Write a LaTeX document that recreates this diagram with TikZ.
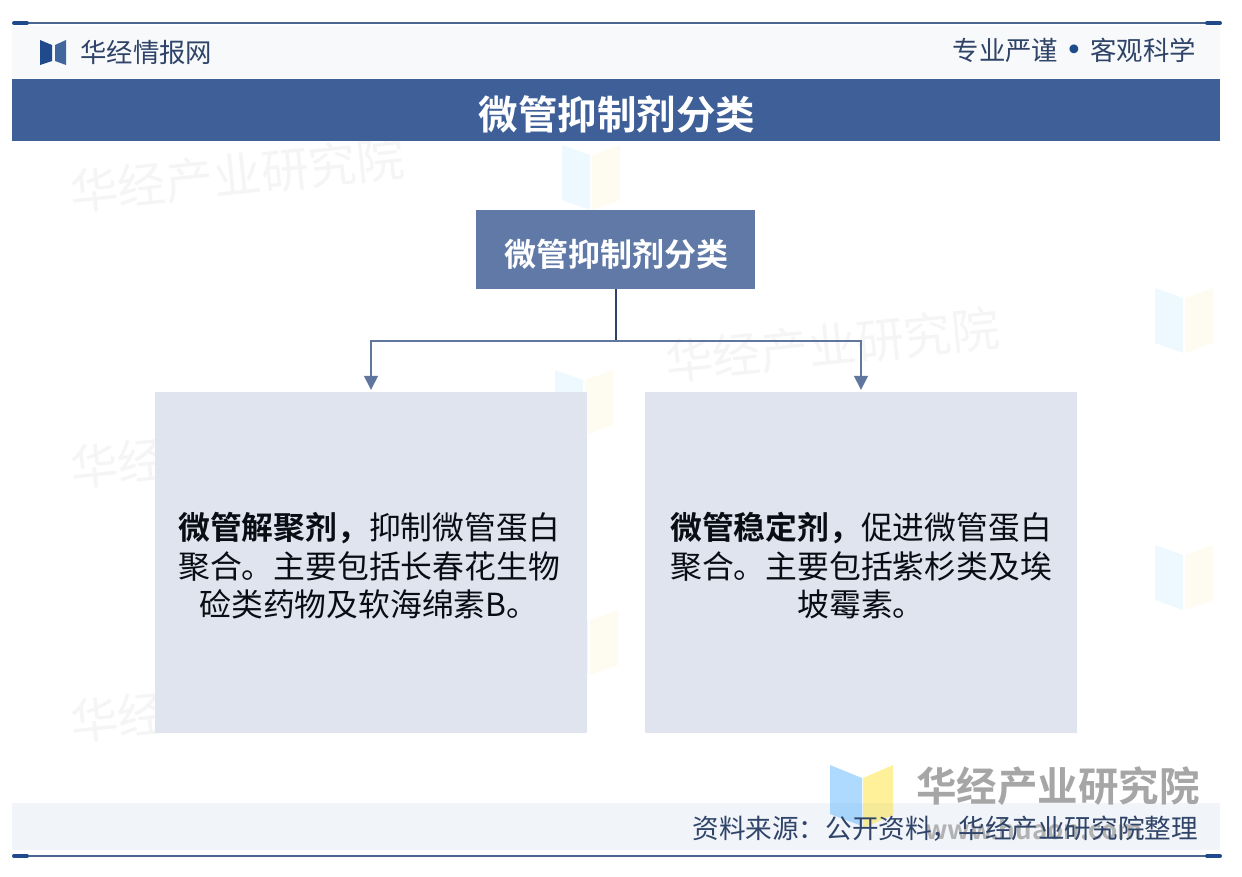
\documentclass[tikz,border=0pt]{standalone}
\usepackage{fontspec}
\setmainfont{Noto Sans CJK SC}[BoldFont={Noto Sans CJK SC Bold}]
\newfontfamily\dotfont{DejaVu Sans}
\usetikzlibrary{arrows.meta}
\definecolor{barblue}{HTML}{3F5F98}
\definecolor{topblue}{HTML}{6079A6}
\definecolor{boxfill}{HTML}{DFE4EE}
\definecolor{linkblue}{HTML}{5F769F}
\definecolor{inkblue}{HTML}{2F4468}
\definecolor{bandtint}{HTML}{F1F4F9}
\definecolor{headtint}{HTML}{F8F9FB}
\definecolor{rulecol}{HTML}{4A6690}
\definecolor{markcol}{HTML}{1F4A8C}
\tikzset{
  titletext/.style={text=white,font=\bfseries\fontsize{39.5}{44}\selectfont,inner sep=0pt},
  toptext/.style={text=white,font=\bfseries\fontsize{32}{36}\selectfont,inner sep=0pt},
  headtext/.style={text=inkblue,font=\fontsize{26.4}{30}\selectfont,inner sep=0pt},
  sourcetext/.style={text=inkblue,font=\fontsize{26.6}{30}\selectfont,inner sep=0pt},
  bodytext/.style={text=black!80!inkblue,font=\fontsize{31.8}{38.5}\selectfont,align=center,inner sep=0pt},
  panel/.style={fill=boxfill,draw=none,minimum width=432pt,minimum height=341pt,inner sep=0pt},
  wmark/.style={text=black!4,font=\fontsize{48}{50}\selectfont,rotate=6,inner sep=0pt,anchor=west},
  link/.style={draw=linkblue,line width=1.6pt},
  rulebar/.style={draw=rulecol,line width=2pt},
  rulecap/.style={draw=markcol,line width=4pt,line cap=round}
}
\begin{document}
\begin{tikzpicture}[x=1pt,y=-1pt]
\useasboundingbox (0,0) rectangle (1242,876);
\fill[white] (0,0) rectangle (1242,876);
% tinted header and source bands
\fill[headtint] (12,26) rectangle (1220,78);
\fill[bandtint] (12,803) rectangle (1220,850);
% faint background marks
\foreach \px/\py in {562/145,1155/288,555/370,1155/545,560/610}{
  \fill[blue!30!cyan,opacity=.07] (\px,\py) -- ++(28,10) -- ++(0,55) -- ++(-28,-10) -- cycle;
  \fill[yellow!70!orange,opacity=.06] (\px+30,\py+10) -- ++(28,-10) -- ++(0,55) -- ++(-28,10) -- cycle;
}
\node[wmark] (wma) at (70,192) {华经产业研究院};
\node[wmark] (wmb) at (665,362) {华经产业研究院};
\node[wmark] (wmc) at (70,468) {华经产业研究院};
\node[wmark] (wmd) at (70,722) {华经产业研究院};
% rules
\coordinate (rtl) at (13,23); \coordinate (rtr) at (1221,23);
\coordinate (rbl) at (13,856); \coordinate (rbr) at (1221,856);
\draw[rulebar] (rtl) -- (rtr);
\draw[rulebar] (rbl) -- (rbr);
\draw[rulecap] (14,23) -- (27,23);
\draw[rulecap] (1207,23) -- (1220,23);
\draw[rulecap] (14,856) -- (27,856);
\draw[rulecap] (1207,856) -- (1220,856);
% header
\fill[markcol] (40,40) -- (52,45) -- (52,61) -- (40,65) -- cycle;
\fill[markcol!85] (55,45) -- (66,40) -- (66,65) -- (55,61) -- cycle;
\node[headtext,anchor=west] (brand) at (80,52) {华经情报网};
\node[headtext,anchor=east] (motto) at (1196,50) {专业严谨\makebox[32pt]{\textcolor{markcol}{\dotfont\fontsize{30}{30}\selectfont •}}客观科学};
\node[fill=barblue,minimum width=1208pt,minimum height=62pt,inner sep=0pt] (bar) at (616,110) {};
\node[titletext] (title) at (617,114) {微管抑制剂分类};
% chart
\node[fill=topblue,minimum width=279pt,minimum height=79pt,inner sep=0pt] (top) at (615.5,249.5) {};
\node[toptext] (toplabel) at (616,254) {微管抑制剂分类};
\node[panel] (left) at (371,562.5) {};
\node[panel] (right) at (861,562.5) {};
\node[bodytext] (lefttext) at (369,566) {\textbf{微管解聚剂，}抑制微管蛋白\\聚合。主要包括长春花生物\\硷类药物及软海绵素B。};
\node[bodytext] (righttext) at (861,566) {\textbf{微管稳定剂，}促进微管蛋白\\聚合。主要包括紫杉类及埃\\坡霉素。};
\coordinate (split) at (616,341);
\draw[draw=inkblue,line width=1.4pt] (top.south -| split) -- (split);
\draw[link,-{Triangle[length=14pt,width=14pt]},shorten >=2pt] (split) -| (left.north);
\draw[link,-{Triangle[length=14pt,width=14pt]},shorten >=2pt] (split) -| (right.north);
% bottom right logo
\fill[blue!45!cyan!70!white,opacity=.45] (830,765) -- (862,778) -- (862,826) -- (830,814) -- cycle;
\fill[yellow!80!orange,opacity=.4] (863,778) -- (893,765) -- (893,815) -- (863,828) -- cycle;
\node[text=black!35,font=\bfseries\fontsize{40.5}{44}\selectfont,inner sep=0pt,anchor=east] (wmlogo) at (1200,786) {华经产业研究院};
\node[text=black!30,font=\bfseries\fontsize{26}{30}\selectfont,inner sep=0pt,anchor=west] (wmurl) at (925,829) {www.huaon.com};
\node[sourcetext,anchor=east] (source) at (1198,829) {资料来源：公开资料，华经产业研究院整理};
\end{tikzpicture}
\end{document}
